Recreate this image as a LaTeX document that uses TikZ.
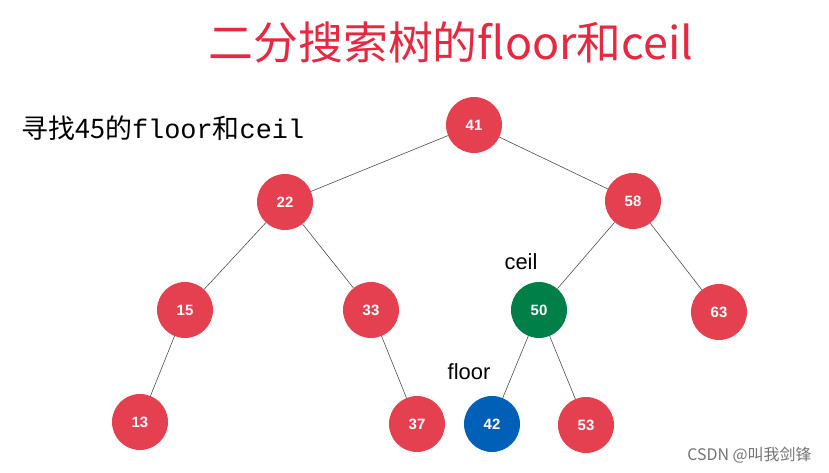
\documentclass[tikz,border=0pt]{standalone}
\usepackage{fontspec}
\setmainfont{Liberation Sans}
\setmonofont{Liberation Mono}
\newfontfamily\cjk{Noto Sans CJK SC}
\usetikzlibrary{positioning}
\definecolor{nodered}{RGB}{228,64,80}
\definecolor{nodegreen}{RGB}{0,128,72}
\definecolor{nodeblue}{RGB}{0,96,184}
\definecolor{titlered}{RGB}{232,40,64}
\tikzset{
  tnode/.style={circle,fill=nodered,minimum size=56bp,inner sep=0pt,text=white,font=\bfseries\fontsize{15}{15}\selectfont},
  tedge/.style={draw=black!70,line width=0.6bp}
}
\begin{document}
\begin{tikzpicture}[x=1bp,y=-1bp]
\useasboundingbox (0,0) rectangle (829,473);
\node (title) at (451,42) {\cjk\fontsize{45}{48}\selectfont\color{titlered}二分搜索树的floor和ceil};
\node[anchor=west] (task) at (18,128) {\cjk\fontsize{27}{29}\selectfont 寻找45的\ttfamily floor\cjk 和\ttfamily ceil};

\node[tnode] (n41) at (474,125) {41};
\node[tnode] (n22) at (285,202) {22};
\node[tnode] (n58) at (633,201) {58};
\node[tnode] (n15) at (185,310) {15};
\node[tnode] (n33) at (371,310) {33};
\node[tnode,fill=nodegreen] (n50) at (539,310) {50};
\node[tnode] (n63) at (719,312) {63};
\node[tnode] (n13) at (140,422) {13};
\node[tnode] (n37) at (417,424) {37};
\node[tnode,fill=nodeblue] (n42) at (492,424) {42};
\node[tnode] (n53) at (586,425) {53};

\node[font=\fontsize{22}{24}\selectfont] (ceil) at (521,262) {ceil};
\node[font=\fontsize{22}{24}\selectfont] (floor) at (469,372) {floor};
\node[anchor=east,text=black!55] (mark) at (815,455) {\cjk\fontsize{16}{17}\selectfont CSDN @叫我剑锋};

% edges
\foreach \a/\b in {n41/n22,n41/n58,n22/n15,n22/n33,n58/n50,n58/n63,n15/n13,n33/n37,n50/n42,n50/n53}
  \draw[tedge] (\a) -- (\b);
\end{tikzpicture}
\end{document}
